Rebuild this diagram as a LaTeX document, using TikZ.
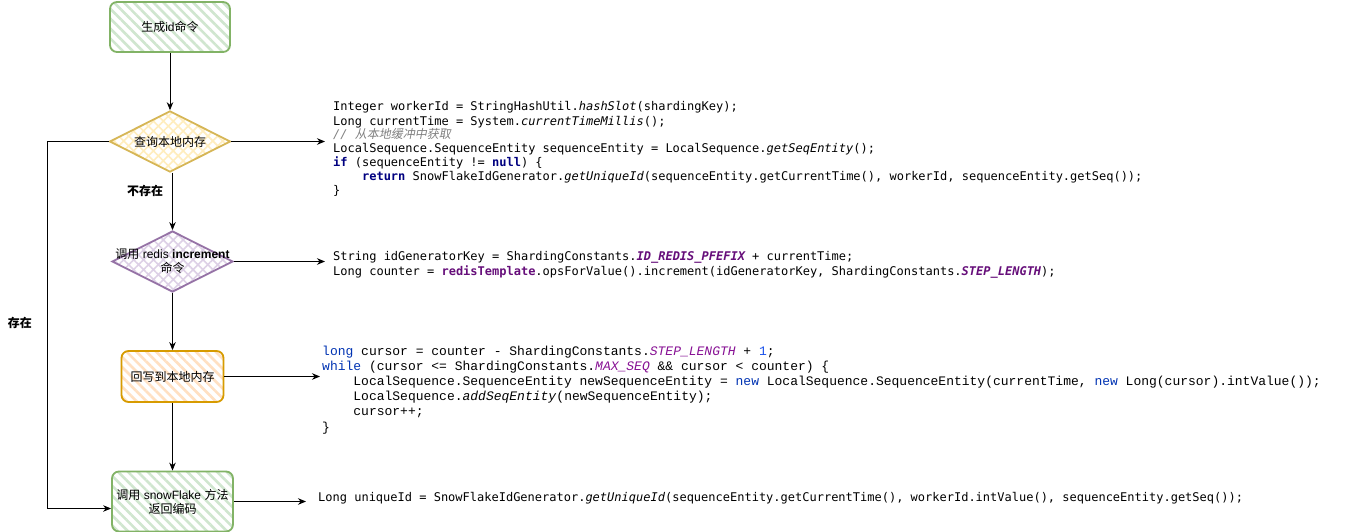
\documentclass[tikz,border=0pt]{standalone}
\usepackage{fontspec}
\setmainfont{Liberation Sans}
\newfontfamily\cjk{Noto Sans CJK SC}
\newfontfamily\cjkitfont[FakeSlant=0.2]{Noto Sans CJK SC}
\newfontfamily\monoA{DejaVu Sans Mono}
\newfontfamily\monoB{Liberation Mono}
\usetikzlibrary{shapes.geometric,patterns.meta,arrows.meta}
\definecolor{sgreen}{HTML}{82B366}
\definecolor{hgreen}{HTML}{D0E6CF}
\definecolor{syellow}{HTML}{D6B656}
\definecolor{hyellow}{HTML}{FFEDBD}
\definecolor{spurple}{HTML}{9673A6}
\definecolor{hpurple}{HTML}{DDD0E6}
\definecolor{sorange}{HTML}{D79B00}
\definecolor{horange}{HTML}{FFE0C2}
\definecolor{kwnavy}{HTML}{000080}
\definecolor{cstpurple}{HTML}{660E7A}
\definecolor{cmtgray}{HTML}{808080}
\definecolor{kwblue}{HTML}{0033B3}
\definecolor{numblue}{HTML}{1750EB}
\definecolor{cstpurpleB}{HTML}{871094}
\newcommand\ckw[1]{\textbf{\color{kwnavy}#1}}
\newcommand\cit[1]{\textit{#1}}
\newcommand\ccst[1]{\textbf{\textit{\color{cstpurple}#1}}}
\newcommand\cpur[1]{\textbf{\color{cstpurple}#1}}
\newcommand\bkw[1]{{\color{kwblue}#1}}
\newcommand\bcst[1]{\textit{\color{cstpurpleB}#1}}
\newcommand\bnum[1]{{\color{numblue}#1}}
\newcommand\zh[1]{{\cjk #1}}
\tikzset{
  box/.style={rectangle, rounded corners=7pt, line width=1.8pt, inner sep=0pt,
    font=\fontsize{12}{14}\selectfont, align=center},
  greenbox/.style={box, draw=sgreen, pattern={Lines[angle=-45,distance=7pt,line width=2.6pt]}, pattern color=hgreen},
  orangebox/.style={box, draw=sorange, pattern={Lines[angle=-45,distance=7pt,line width=2.6pt]}, pattern color=horange},
  dia/.style={diamond, inner sep=0pt, line width=1.8pt, minimum width=121pt, minimum height=61pt},
  yellowdia/.style={dia, draw=syellow, pattern={Hatch[angle=45,distance=7pt,line width=1.6pt]}, pattern color=hyellow},
  purpledia/.style={dia, draw=spurple, pattern={Hatch[angle=45,distance=7pt,line width=1.6pt]}, pattern color=hpurple},
  ntext/.style={inner sep=0pt, font=\fontsize{12}{14}\selectfont, align=center},
  lbl/.style={inner sep=0pt, font=\cjk\fontsize{12}{14}\selectfont\bfseries},
  codeA/.style={anchor=base west, inner sep=0pt, font=\monoA\fontsize{12}{14}\selectfont},
  codeB/.style={anchor=base west, inner sep=0pt, font=\monoB\fontsize{13}{15}\selectfont},
  arr/.style={draw=black, line width=0.8pt, -{Stealth[length=8pt,width=6.5pt]}},
}
\begin{document}
\begin{tikzpicture}[x=1pt,y=-1pt]
\useasboundingbox[fill=white] (0,0) rectangle (1351,532);

% shapes
\node[greenbox, minimum width=120pt, minimum height=50pt] (n1) at (170,27) {\zh{生成}id\zh{命令}};
\node[yellowdia] (d1) at (170,141.5) {};
\node[ntext] (d1t) at (d1.center) {\zh{查询本地内存}};
\node[purpledia] (d2) at (172.5,261.5) {};
\node[ntext] (d2t) at (d2.center) {\zh{调用} redis \textbf{increment}\\\zh{命令}};
\node[orangebox, minimum width=102pt, minimum height=51pt] (n4) at (172.5,376.5) {\zh{回写到本地内存}};
\node[greenbox, minimum width=121pt, minimum height=60pt] (n5) at (172.5,501.5) {\zh{调用} snowFlake \zh{方法}\\\zh{返回编码}};

% labels
\node[lbl] (lno) at (145,190.5) {不存在};
\node[lbl] (lyes) at (20,322.5) {存在};

% code block 1
\node[codeA] (c1a) at (333,111) {Integer workerId = StringHashUtil.\cit{hashSlot}(shardingKey);};
\node[codeA] (c1b) at (333,125) {Long currentTime = System.\cit{currentTimeMillis}();};
\node[codeA] (c1c) at (333,138.8) {{\color{cmtgray}\textit{// }{\cjkitfont 从本地缓冲中获取}}};
\node[codeA] (c1d) at (333,152.6) {LocalSequence.SequenceEntity sequenceEntity = LocalSequence.\cit{getSeqEntity}();};
\node[codeA] (c1e) at (333,166.4) {\ckw{if} (sequenceEntity != \ckw{null}) \{};
\node[codeA] (c1f) at (333,180.2) {\phantom{xxxx}\ckw{return} SnowFlakeIdGenerator.\cit{getUniqueId}(sequenceEntity.getCurrentTime(), workerId, sequenceEntity.getSeq());};
\node[codeA] (c1g) at (333,194) {\}};

% code block 2
\node[codeA] (c2a) at (333,260.5) {String idGeneratorKey = ShardingConstants.\ccst{ID\_REDIS\_PFEFIX} + currentTime;};
\node[codeA] (c2b) at (333,275) {Long counter = \cpur{redisTemplate}.opsForValue().increment(idGeneratorKey, ShardingConstants.\ccst{STEP\_LENGTH});};

% code block 3
\node[codeB] (c3a) at (322,355.5) {\bkw{long} cursor = counter - ShardingConstants.\bcst{STEP\_LENGTH} + \bnum{1};};
\node[codeB] (c3b) at (322,370.6) {\bkw{while} (cursor <= ShardingConstants.\bcst{MAX\_SEQ} \&\& cursor < counter) \{};
\node[codeB] (c3c) at (322,385.7) {\phantom{xxxx}LocalSequence.SequenceEntity newSequenceEntity = \bkw{new} LocalSequence.SequenceEntity(currentTime, \bkw{new} Long(cursor).intValue());};
\node[codeB] (c3d) at (322,400.8) {\phantom{xxxx}LocalSequence.\textit{addSeqEntity}(newSequenceEntity);};
\node[codeB] (c3e) at (322,415.9) {\phantom{xxxx}cursor++;};
\node[codeB] (c3f) at (322,431) {\}};

% code block 4
\node[codeA] (c4a) at (318,501) {Long uniqueId = SnowFlakeIdGenerator.\cit{getUniqueId}(sequenceEntity.getCurrentTime(), workerId.intValue(), sequenceEntity.getSeq());};

% free ends
\coordinate (e1) at (325,141.5);
\coordinate (e2) at (325,261.5);
\coordinate (e4) at (320,376.5);
\coordinate (e5) at (306,501.5);
\coordinate (lft) at (47,141.5);

% connectors
\draw[arr] (n1.south) -- (d1.north);
\draw[arr] (d1.south -| d2.north) -- (d2.north);
\draw[arr] (d2.south) -- (n4.north);
\draw[arr] (n4.south) -- (n5.north);
\draw[arr] (d1.east) -- (e1);
\draw[arr] (d2.east) -- (e2);
\draw[arr] (n4.east) -- (e4);
\draw[arr] (n5.east) -- (e5);
\draw[arr] (d1.west) -- (lft) |- ([yshift=-7pt]n5.west);
\end{tikzpicture}
\end{document}
